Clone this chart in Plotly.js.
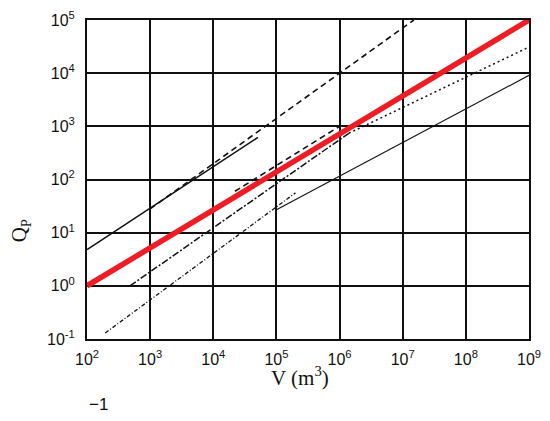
<!DOCTYPE html>
<html><head><meta charset="utf-8">
<script src="https://cdn.plot.ly/plotly-3.0.1.min.js"></script>
<style>html,body{margin:0;padding:0;background:#fff}#c{width:550px;height:421px}</style>
</head><body><div id="c"></div>
<script>
// Envelope curves: V (m^3) vs Qp
const redV = [1e2, 1e9];
const redQ = [1, 1e5];
const upperSolidV = [1e2, 5.1e4];
const upperSolidQ = [4.8, 620];
const upperDashedV = [1e3, 1.5e7];
const upperDashedQ = [28, 1e5];
const nearDashedV = [2.2e4, 1e6];
const nearDashedQ = [60, 1e3];
const dashDotV = [480, 1.4e6];
const dashDotQ = [1, 740];
const dottedV = [1.4e6, 1e9];
const dottedQ = [740, 3.1e4];
const dashDotDotV = [195, 2e5];
const dashDotDotQ = [0.13, 56];
const lowerSolidV = [1e5, 1e9];
const lowerSolidQ = [27, 9.1e3];

// Tick labels
const xTickVals = [1e2, 1e3, 1e4, 1e5, 1e6, 1e7, 1e8, 1e9];
const xTickText = ['10<sup>2</sup>', '10<sup>3</sup>', '10<sup>4</sup>', '10<sup>5</sup>',
                   '10<sup>6</sup>', '10<sup>7</sup>', '10<sup>8</sup>', '10<sup>9</sup>'];
const yTickVals = [1e-1, 1e0, 1e1, 1e2, 1e3, 1e4, 1e5];
const yTickText = ['10<sup>-1</sup>', '10<sup>0</sup>', '10<sup>1</sup>', '10<sup>2</sup>',
                   '10<sup>3</sup>', '10<sup>4</sup>', '10<sup>5</sup>'];

function line(x, y, w, dash, color) {
  return {x: x, y: y, type: 'scatter', mode: 'lines', hoverinfo: 'skip',
          line: {color: color || '#111', width: w, dash: dash || 'solid'}};
}
const data = [
  line(upperSolidV, upperSolidQ, 1.6),
  line(upperDashedV, upperDashedQ, 1.6, '6px,4px'),
  line(nearDashedV, nearDashedQ, 1.6, '6px,4px'),
  line(dashDotV, dashDotQ, 1.5, '7px,2px,2px,2px'),
  line(dottedV, dottedQ, 1.5, '2px,3px'),
  line(dashDotDotV, dashDotDotQ, 1.3, '4px,2px,1px,2px'),
  line(lowerSolidV, lowerSolidQ, 1.1),
  line(redV, redQ, 5.5, 'solid', '#ee1c25')
];
const ax = {
  type: 'log', showgrid: true, gridcolor: '#111', gridwidth: 2,
  showline: true, linecolor: '#111', linewidth: 2, mirror: true,
  zeroline: false, ticks: '', tickmode: 'array',
  tickfont: {family: 'Liberation Sans, Arial, sans-serif', size: 16, color: '#111'}
};
const layout = {
  width: 550, height: 421, showlegend: false,
  margin: {l: 87, r: 21, t: 20, b: 82},
  paper_bgcolor: '#fff', plot_bgcolor: '#fff',
  xaxis: Object.assign({}, ax, {range: [2, 9], tickvals: xTickVals, ticktext: xTickText, ticklabelstandoff: 5}),
  yaxis: Object.assign({}, ax, {range: [-1, 5], tickvals: yTickVals, ticktext: yTickText, ticklabelstandoff: 7}),
  annotations: [
    {text: 'V (m<sup>3</sup>)', xref: 'paper', yref: 'paper', x: 0.483, y: -0.118,
     xanchor: 'center', yanchor: 'middle', showarrow: false,
     font: {family: 'Liberation Serif, Times New Roman, serif', size: 21, color: '#111'}},
    {text: 'Q<sub>P</sub>', xref: 'paper', yref: 'paper', x: -0.152, y: 0.34,
     xanchor: 'center', yanchor: 'middle', showarrow: false, textangle: -90,
     font: {family: 'Liberation Serif, Times New Roman, serif', size: 21, color: '#111'}},
    {text: '\u22121', xref: 'paper', yref: 'paper', x: 0.025, y: -0.204,
     xanchor: 'center', yanchor: 'middle', showarrow: false,
     font: {family: 'Liberation Sans, Arial, sans-serif', size: 17, color: '#111'}}
  ]
};
Plotly.newPlot('c', data, layout, {staticPlot: true, displayModeBar: false});
</script></body></html>
